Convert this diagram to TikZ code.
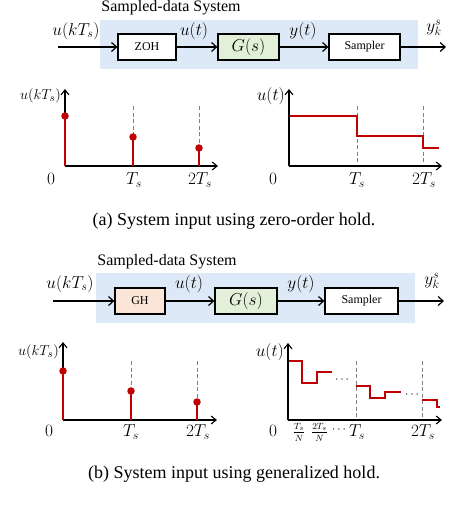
\documentclass[tikz,border=0pt]{standalone}
\usepackage{fontspec}
\setmainfont{Liberation Serif}
\usetikzlibrary{arrows.meta}
\definecolor{sysblue}{RGB}{221,233,246}
\definecolor{gfill}{RGB}{226,240,217}
\definecolor{ofill}{RGB}{251,229,214}
\definecolor{sred}{RGB}{192,0,0}
\tikzset{
  blockbox/.style={draw=black,line width=1.2pt,minimum height=26pt,inner sep=0pt,font=\fontsize{12}{14}\selectfont},
  sig/.style={line width=1.2pt,-{Straight Barb[length=5pt,width=9pt]}},
  axis/.style={line width=1.1pt,-{Straight Barb[length=5pt,width=8pt]}},
  lbl/.style={font=\fontsize{18}{20}\selectfont,inner sep=0pt},
  plbl/.style={font=\fontsize{15.5}{17}\selectfont,inner sep=0pt},
  tlbl/.style={font=\fontsize{17}{19}\selectfont,inner sep=0pt},
  stem/.style={sred,line width=2.8pt},
  dot/.style={circle,fill=sred,inner sep=0pt,minimum size=7.5pt},
  guide/.style={gray,line width=0.9pt,dash pattern=on 4pt off 2.5pt},
  stepline/.style={sred,line width=2.8pt,line join=miter},
  titletext/.style={font=\fontsize{16}{18}\selectfont,inner sep=0pt},
  captext/.style={font=\fontsize{18}{20}\selectfont,inner sep=0pt}
}
\begin{document}
\begin{tikzpicture}[x=1pt,y=-1pt]
\useasboundingbox (0,0) rectangle (474,515);
% ===== Top block diagram =====
\node[titletext] (ta) at (171,8) {Sampled-data System};
\fill[sysblue] (100,20) rectangle (418,69);
\coordinate (ina) at (58,47);
\coordinate (outa) at (446,47);
\node[blockbox,fill=white,minimum width=58pt] (zoh) at (147,47) {ZOH};
\node[blockbox,fill=gfill,minimum width=61pt,font=\fontsize{16}{18}\selectfont] (ga) at (248.5,47) {$G(s)$};
\node[blockbox,fill=white,minimum width=71pt] (sa) at (364.5,47) {Sampler};
\draw[sig] (ina) -- (zoh);
\draw[sig] (zoh) -- (ga);
\draw[sig] (ga) -- (sa);
\draw[sig] (sa) -- (outa);
\node[lbl] (la1) at (76,31) {$u(kT_s)$};
\node[lbl] (la2) at (194,31) {$u(t)$};
\node[lbl] (la3) at (303,31) {$y(t)$};
\node[lbl] (la4) at (434,28) {$y_k^s$};
% ===== Plot a-left =====
\coordinate (oa) at (65,166);
\draw[axis] (oa) -- (65,89);
\draw[axis] (oa) -- (218,166);
\draw[guide] (133,106) -- (133,137);
\draw[guide] (199,106) -- (199,148);
\draw[stem] (65,166) -- (65,116);
\draw[stem] (133,166) -- (133,137);
\draw[stem] (199,166) -- (199,148);
\node[dot] (da1) at (65,116) {};
\node[dot] (da2) at (133,137) {};
\node[dot] (da3) at (199,148) {};
\node[plbl,anchor=east] (pa1) at (61,96) {$u(kT_s)$};
\node[tlbl] (xa0) at (51,179) {$0$};
\node[tlbl] (xa1) at (134,180) {$T_s$};
\node[tlbl] (xa2) at (200,180) {$2T_s$};
% ===== Plot a-right =====
\coordinate (ob) at (289,166);
\draw[guide] (357,106) -- (357,166);
\draw[guide] (423,106) -- (423,166);
\draw[stepline] (289,116) -- (357,116) -- (357,136) -- (423,136) -- (423,148) -- (439,148);
\draw[axis] (ob) -- (289,89);
\draw[axis] (ob) -- (442,166);
\node[plbl,anchor=east] (pb1) at (285,96) {\fontsize{17}{19}\selectfont$u(t)$};
\node[tlbl] (xb0) at (273,179) {$0$};
\node[tlbl] (xb1) at (357,180) {$T_s$};
\node[tlbl] (xb2) at (424,180) {$2T_s$};
% caption a
\node[captext] (capa) at (234,221) {(a) System input using zero-order hold.};
% ===== Bottom block diagram =====
\node[titletext] (tb) at (167,262) {Sampled-data System};
\fill[sysblue] (96,273) rectangle (415,323);
\coordinate (inb) at (53,301);
\coordinate (outb) at (444,301);
\node[blockbox,fill=ofill,minimum width=50pt] (gh) at (140,301) {GH};
\node[blockbox,fill=gfill,minimum width=62pt,font=\fontsize{16}{18}\selectfont] (gb) at (246,301) {$G(s)$};
\node[blockbox,fill=white,minimum width=73pt] (sb) at (361.5,301) {Sampler};
\draw[sig] (inb) -- (gh);
\draw[sig] (gh) -- (gb);
\draw[sig] (gb) -- (sb);
\draw[sig] (sb) -- (outb);
\node[lbl] (lb1) at (70,284) {$u(kT_s)$};
\node[lbl] (lb2) at (189,284) {$u(t)$};
\node[lbl] (lb3) at (301,284) {$y(t)$};
\node[lbl] (lb4) at (432,281) {$y_k^s$};
% ===== Plot b-left =====
\coordinate (oc) at (63,420);
\draw[axis] (oc) -- (63,342);
\draw[axis] (oc) -- (217,420);
\draw[guide] (131,361) -- (131,391);
\draw[guide] (197,361) -- (197,402);
\draw[stem] (63,420) -- (63,371);
\draw[stem] (131,420) -- (131,391);
\draw[stem] (197,420) -- (197,402);
\node[dot] (dc1) at (63,371) {};
\node[dot] (dc2) at (131,391) {};
\node[dot] (dc3) at (197,402) {};
\node[plbl,anchor=east] (pc1) at (59,352) {$u(kT_s)$};
\node[tlbl] (xc0) at (49,431) {$0$};
\node[tlbl] (xc1) at (131,432) {$T_s$};
\node[tlbl] (xc2) at (198,432) {$2T_s$};
% ===== Plot b-right =====
\coordinate (od) at (288,420);
\draw[guide] (356,361) -- (356,420);
\draw[guide] (422,361) -- (422,420);
\draw[stepline] (288,361) -- (302,361) -- (302,383) -- (317,383) -- (317,372) -- (332,372);
\draw[stepline] (356,386) -- (370,386) -- (370,398) -- (385,398) -- (385,392) -- (401,392);
\draw[stepline] (422,400) -- (437,400) -- (437,407) -- (440,407);
\draw[axis] (od) -- (288,343);
\draw[axis] (od) -- (442,420);
\node[plbl,anchor=east] (pd1) at (284,352) {\fontsize{17}{19}\selectfont$u(t)$};
\node[plbl] (dd1) at (342,380) {\fontsize{12}{14}\selectfont$\cdots$};
\node[plbl] (dd2) at (412,395) {\fontsize{12}{14}\selectfont$\cdots$};
\node[tlbl] (xd0) at (273,431) {$0$};
\node[inner sep=0pt] (xd1) at (299,432) {\fontsize{9.5}{11}\selectfont$\displaystyle\frac{T_s}{N}$};
\node[inner sep=0pt] (xd2) at (319.5,432) {\fontsize{9.5}{11}\selectfont$\displaystyle\frac{2T_s}{N}$};
\node[plbl] (xd3) at (339,430) {\fontsize{12}{14}\selectfont$\cdots$};
\node[tlbl] (xd4) at (357,432) {$T_s$};
\node[tlbl] (xd5) at (423,432) {$2T_s$};
% caption b
\node[captext] (capb) at (234,474) {(b) System input using generalized hold.};
\end{tikzpicture}
\end{document}
